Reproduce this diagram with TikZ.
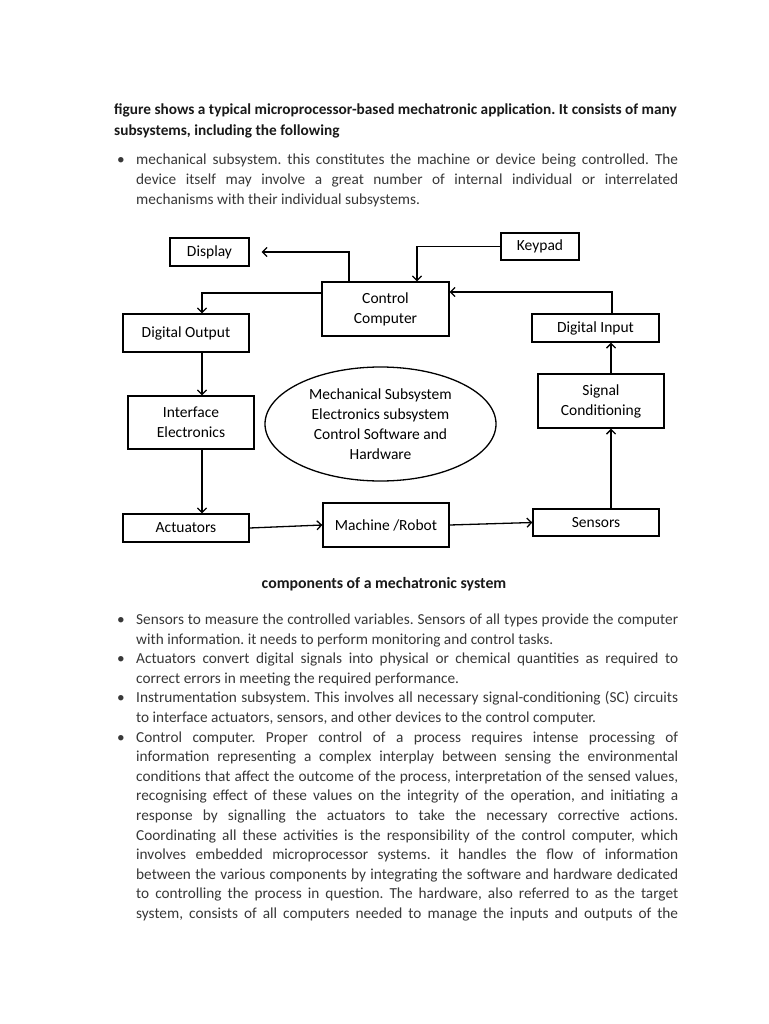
\documentclass[tikz,border=0pt]{standalone}
\usepackage{fontspec}
\setmainfont{Carlito}
\usetikzlibrary{shapes.geometric,arrows.meta}
\hyphenpenalty=10000
\exhyphenpenalty=10000
\tolerance=9999
\frenchspacing
\begin{document}
\begin{tikzpicture}[x=1pt,y=-1pt,
    box/.style={draw,line width=1.3pt,inner sep=0pt,align=center,
      font=\fontsize{15.5}{20}\selectfont},
    oval/.style={draw,ellipse,line width=1.3pt,inner sep=0pt,align=center,
      font=\fontsize{15.5}{20}\selectfont},
    link/.style={->,line width=1.3pt},
    >={Straight Barb[length=4.5pt,width=9pt]},
    head/.style={anchor=base west,inner sep=0pt,align=left,text=black!90,
      font=\fontsize{15.3}{21}\selectfont\bfseries},
    body/.style={anchor=base west,inner sep=0pt,text width=542pt,align=justify,
      text=black!78,font=\fontsize{15.3}{19.6}\selectfont},
    dot/.style={anchor=base west,inner sep=0pt,text=black!78,
      font=\fontsize{15.3}{19.6}\selectfont}]
  \useasboundingbox[fill=white] (0,0) rectangle (768,1024);

  % text above the figure
  \node[head] (title) at (114,136)
    {figure shows a typical microprocessor-based mechatronic application. It consists of many\\
     subsystems, including the following};
  \node[dot] (b1) at (117,165) {•};
  \node[body] (p1) at (136,165)
    {mechanical subsystem. this constitutes the machine or device being controlled. The\linebreak
     device itself may involve a great number of internal individual or interrelated\linebreak
     mechanisms with their individual subsystems.};

  % the diagram
  \node[box,minimum width=79pt,minimum height=28pt] (display) at (209.5,252) {Display};
  \node[box,minimum width=78pt,minimum height=27pt] (keypad) at (540,246.5) {Keypad};
  \node[box,minimum width=127pt,minimum height=54pt] (ctrl) at (385.5,309) {Control\\Computer};
  \node[box,minimum width=126pt,minimum height=38pt] (digout) at (186,333) {Digital Output};
  \node[box,minimum width=127pt,minimum height=28pt] (digin) at (595.5,328) {Digital Input};
  \node[box,minimum width=126pt,minimum height=53pt] (iface) at (191,422.5) {Interface\\Electronics};
  \node[box,minimum width=126pt,minimum height=54pt] (sigcond) at (601,401) {Signal\\Conditioning};
  \node[oval,minimum width=231pt,minimum height=114pt] (subsys) at (380.5,424)
    {Mechanical Subsystem\\Electronics subsystem\\Control Software and\\Hardware};
  \node[box,minimum width=126pt,minimum height=28pt] (act) at (186,528) {Actuators};
  \node[box,minimum width=126pt,minimum height=44pt] (machine) at (386,525) {Machine /Robot};
  \node[box,minimum width=126pt,minimum height=27pt] (sensors) at (596,522.5) {Sensors};

  \draw[link] ([xshift=-36.5pt]ctrl.north) |- ([xshift=12pt]display.east);
  \draw[link] (keypad.west) -| ([xshift=31.5pt]ctrl.north);
  \draw[link] ([yshift=16pt]ctrl.west) -| ([xshift=16pt]digout.north);
  \draw[link] ([xshift=16pt]digout.south) -- ([xshift=16pt]digout.south |- iface.north);
  \draw[link] ([xshift=11pt]iface.south) -- ([xshift=11pt]iface.south |- act.north);
  \draw[link] (act.east) -- (machine.west);
  \draw[link] (machine.east) -- (sensors.west);
  \draw[link] ([xshift=15pt]sensors.north) -- ([xshift=15pt]sensors.north |- sigcond.south);
  \draw[link] ([xshift=10pt]sigcond.north) -- ([xshift=10pt]sigcond.north |- digin.south);
  \draw[link] ([xshift=16.5pt]digin.north) |- ([yshift=17pt]ctrl.east);

  % caption and the list below it
  \node[head,anchor=base,font=\fontsize{15.8}{21}\selectfont\bfseries] (caption) at (384,588)
    {components of a mechatronic system};
  \node[dot] (b2) at (117,624.5) {•};
  \node[body] (p2) at (136,624.5)
    {Sensors to measure the controlled variables. Sensors of all types provide the computer\linebreak
     with information. it needs to perform monitoring and control tasks.};
  \node[dot] (b3) at (117,663.7) {•};
  \node[body] (p3) at (136,663.7)
    {Actuators convert digital signals into physical or chemical quantities as required to\linebreak
     correct errors in meeting the required performance.};
  \node[dot] (b4) at (117,702.9) {•};
  \node[body] (p4) at (136,702.9)
    {Instrumentation subsystem. This involves all necessary signal-conditioning (SC) circuits\linebreak
     to interface actuators, sensors, and other devices to the control computer.};
  \node[dot] (b5) at (117,742.1) {•};
  \node[body] (p5) at (136,742.1)
    {\parfillskip=0pt Control computer. Proper control of a process requires intense processing of\linebreak
     information representing a complex interplay between sensing the environmental\linebreak
     conditions that affect the outcome of the process, interpretation of the sensed values,\linebreak
     recognising effect of these values on the integrity of the operation, and initiating a\linebreak
     response by signalling the actuators to take the necessary corrective actions.\linebreak
     Coordinating all these activities is the responsibility of the control computer, which\linebreak
     involves embedded microprocessor systems. it handles the flow of information\linebreak
     between the various components by integrating the software and hardware dedicated\linebreak
     to controlling the process in question. The hardware, also referred to as the target\linebreak
     system, consists of all computers needed to manage the inputs and outputs of the\par};
\end{tikzpicture}
\end{document}
